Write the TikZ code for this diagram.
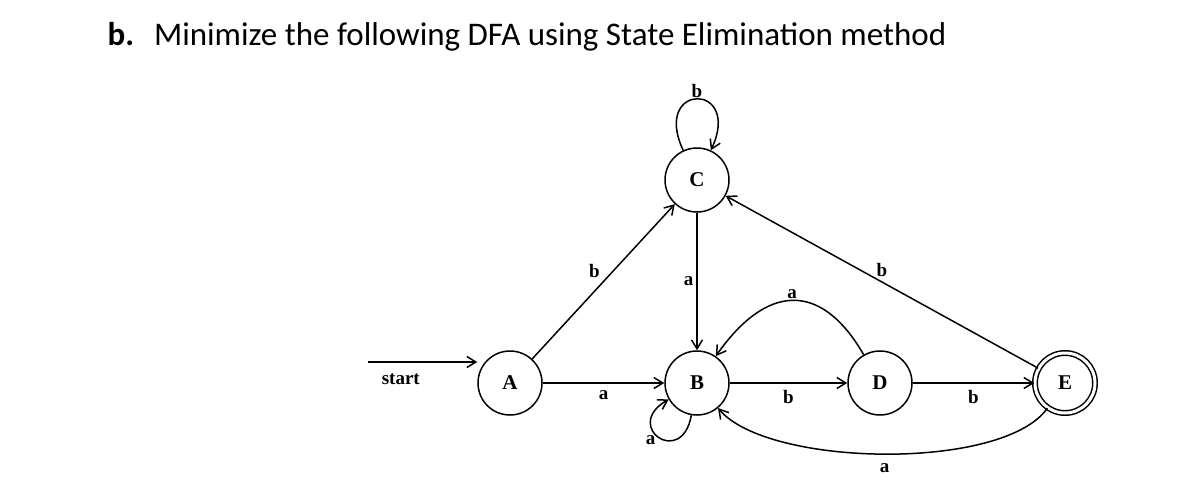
\documentclass[tikz,border=0pt]{standalone}
\usepackage{fontspec}
\setmainfont{Liberation Serif}
\newfontfamily\hdr{Carlito}
\usetikzlibrary{arrows.meta}
\begin{document}
\begin{tikzpicture}[x=1pt,y=-1pt,
  st/.style={circle,draw,line width=1.5pt,minimum size=64pt,inner sep=0pt,font=\fontsize{21}{21}\selectfont\bfseries},
  acc/.style={st,double,double distance=3pt,minimum size=60pt},
  tr/.style={-{Straight Barb[length=9pt,width=11pt]},line width=1.5pt},
  lb/.style={font=\fontsize{19}{19}\selectfont\bfseries,inner sep=1pt}]
\useasboundingbox (0,0) rectangle (1199,491);
\node[anchor=west,font=\hdr\fontsize{33}{33}\selectfont] (t) at (104,37) {\textbf{b.}\hspace{20pt}Minimize the following DFA using State Elimination method};
\node[st] (A) at (510,383) {A};
\node[st] (B) at (697,383) {B};
\node[st] (C) at (697,180) {C};
\node[st] (D) at (880,383) {D};
\node[acc] (E) at (1065,383) {E};
\coordinate (s) at (368,362);
\draw[tr] (s) -- (A.west |- s) node[lb,pos=0.3,below=10pt] {start};
\draw[tr] (A) -- node[lb,below=6pt] {a} (B);
\draw[tr] (A) -- node[lb,above left=2pt] {b} (C);
\draw[tr] (C) to[out=115,in=65,looseness=7] node[lb,above] {b} (C);
\draw[tr] (C) -- node[lb,left=2pt] {a} (B);
\draw[tr] (B) -- node[lb,below=6pt] {b} (D);
\draw[tr] (D) to[out=120,in=55,looseness=1.5] node[lb,above] {a} (B);
\draw[tr] (D) -- node[lb,below=6pt] {b} (E);
\draw[tr] (E) -- node[lb,above=4pt] {b} (C);
\draw[tr] (E) to[out=-125,in=-50,looseness=0.6] node[lb,below=8pt] {a} (B);
\draw[tr] (B) to[out=-100,in=-150,looseness=5] node[lb,below left=-1pt,pos=0.55] {a} (B);
\end{tikzpicture}
\end{document}
